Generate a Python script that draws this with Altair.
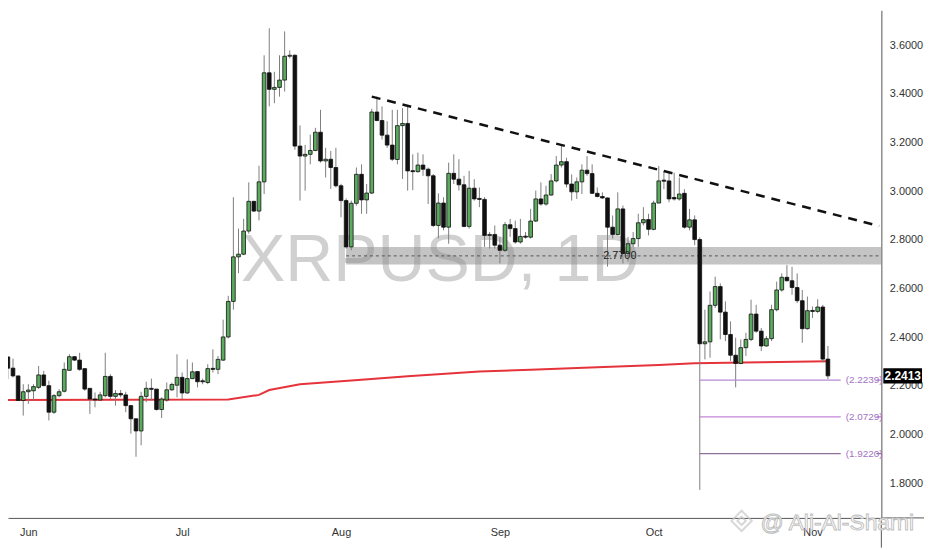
import altair as alt
import pandas as pd

# ---------------- data ----------------
start = "2025-05-27"
opens = [2.309, 2.319, 2.273, 2.241, 2.140, 2.176, 2.180, 2.194, 2.245, 2.201,
         2.092, 2.160, 2.178, 2.264, 2.320, 2.306, 2.271, 2.190, 2.146, 2.142,
         2.160, 2.239, 2.157, 2.169, 2.163, 2.119, 2.065, 2.015, 2.157, 2.190,
         2.187, 2.103, 2.142, 2.184, 2.203, 2.235, 2.171, 2.230, 2.259, 2.218,
         2.214, 2.271, 2.268, 2.306, 2.401, 2.547, 2.730, 2.741, 2.836, 2.958,
         2.918, 3.038, 3.486, 3.418, 3.426, 3.456, 3.554, 3.558, 3.185, 3.144,
         3.151, 3.167, 3.242, 3.124, 3.131, 3.097, 3.022, 2.961, 2.771, 2.950,
         3.069, 2.964, 2.992, 3.325, 3.290, 3.230, 3.189, 3.130, 3.269, 3.278,
         3.083, 3.080, 3.107, 3.090, 3.063, 2.859, 2.951, 2.852, 3.073, 3.049,
         3.026, 2.855, 3.012, 2.968, 2.966, 2.818, 2.822, 2.778, 2.757, 2.862,
         2.846, 2.791, 2.814, 2.811, 2.877, 2.968, 2.947, 2.984, 3.042, 3.107,
         3.121, 3.029, 2.997, 3.038, 3.086, 3.072, 2.991, 2.978, 2.972, 2.852,
         2.822, 2.927, 2.744, 2.784, 2.805, 2.870, 2.883, 2.843, 2.951, 3.042,
         3.042, 2.974, 2.968, 2.991, 2.852, 2.882, 2.801, 2.373, 2.381, 2.531,
         2.608, 2.503, 2.411, 2.326, 2.292, 2.357, 2.391, 2.495, 2.425, 2.364,
         2.394, 2.513, 2.594, 2.646, 2.632, 2.604, 2.550, 2.435, 2.509, 2.506,
         2.524, 2.310]
highs = [2.350, 2.322, 2.312, 2.243, 2.207, 2.207, 2.207, 2.282, 2.262, 2.221,
         2.167, 2.187, 2.296, 2.330, 2.323, 2.336, 2.271, 2.190, 2.173, 2.176,
         2.336, 2.248, 2.183, 2.183, 2.176, 2.122, 2.065, 2.176, 2.217, 2.230,
         2.187, 2.153, 2.214, 2.214, 2.330, 2.255, 2.309, 2.296, 2.259, 2.230,
         2.289, 2.350, 2.323, 2.472, 2.570, 2.975, 2.846, 2.886, 3.036, 2.960,
         3.104, 3.558, 3.669, 3.490, 3.558, 3.656, 3.578, 3.562, 3.270, 3.190,
         3.232, 3.260, 3.334, 3.178, 3.165, 3.178, 3.030, 2.970, 2.961, 3.097,
         3.110, 3.029, 3.338, 3.388, 3.348, 3.287, 3.334, 3.334, 3.341, 3.354,
         3.151, 3.158, 3.151, 3.097, 3.070, 2.991, 2.975, 3.117, 3.151, 3.131,
         3.063, 3.083, 3.049, 3.015, 2.975, 2.832, 2.859, 2.811, 2.873, 2.886,
         2.879, 2.886, 2.832, 2.927, 3.002, 3.036, 3.022, 3.070, 3.144, 3.192,
         3.137, 3.069, 3.056, 3.110, 3.144, 3.110, 3.015, 2.995, 2.974, 2.900,
         2.995, 2.941, 2.812, 2.832, 2.907, 2.934, 2.907, 2.961, 3.103, 3.083,
         3.083, 3.076, 3.056, 3.008, 2.927, 2.900, 2.810, 2.513, 2.588, 2.649,
         2.621, 2.547, 2.465, 2.398, 2.391, 2.418, 2.554, 2.533, 2.438, 2.405,
         2.533, 2.628, 2.662, 2.696, 2.689, 2.662, 2.594, 2.567, 2.526, 2.556,
         2.533, 2.364]
lows = [2.275, 2.228, 2.235, 2.138, 2.078, 2.126, 2.140, 2.187, 2.201, 2.058,
        2.085, 2.153, 2.173, 2.262, 2.302, 2.262, 2.180, 2.085, 2.112, 2.140,
        2.153, 2.146, 2.119, 2.153, 2.092, 2.004, 1.909, 1.956, 2.133, 2.140,
        2.099, 2.068, 2.135, 2.180, 2.153, 2.146, 2.167, 2.228, 2.194, 2.207,
        2.207, 2.255, 2.248, 2.302, 2.395, 2.513, 2.663, 2.737, 2.825, 2.914,
        2.880, 2.988, 3.348, 3.361, 3.388, 3.409, 3.545, 3.170, 2.961, 3.002,
        3.110, 3.164, 3.117, 3.056, 3.009, 3.015, 2.893, 2.764, 2.757, 2.940,
        2.907, 2.907, 2.988, 3.287, 3.212, 3.178, 3.124, 3.110, 3.050, 3.002,
        3.004, 3.076, 3.063, 2.947, 2.852, 2.806, 2.839, 2.784, 3.029, 3.002,
        2.852, 2.846, 2.961, 2.934, 2.771, 2.764, 2.764, 2.703, 2.750, 2.812,
        2.784, 2.784, 2.805, 2.805, 2.873, 2.940, 2.940, 2.981, 3.036, 3.097,
        3.015, 2.961, 2.968, 2.988, 3.063, 2.988, 2.974, 2.968, 2.690, 2.805,
        2.818, 2.703, 2.710, 2.771, 2.771, 2.859, 2.818, 2.839, 2.951, 3.008,
        2.954, 2.961, 2.961, 2.846, 2.839, 2.778, 1.773, 2.309, 2.316, 2.520,
        2.391, 2.384, 2.302, 2.194, 2.289, 2.323, 2.384, 2.418, 2.343, 2.361,
        2.384, 2.506, 2.587, 2.628, 2.574, 2.540, 2.377, 2.431, 2.479, 2.499,
        2.296, 2.228]
closes = [2.319, 2.273, 2.241, 2.140, 2.176, 2.183, 2.197, 2.245, 2.201, 2.092,
          2.160, 2.176, 2.268, 2.320, 2.306, 2.268, 2.187, 2.146, 2.142, 2.163,
          2.239, 2.157, 2.169, 2.163, 2.119, 2.065, 2.015, 2.157, 2.190, 2.186,
          2.103, 2.146, 2.184, 2.206, 2.235, 2.171, 2.230, 2.258, 2.217, 2.217,
          2.271, 2.268, 2.309, 2.401, 2.547, 2.730, 2.741, 2.836, 2.958, 2.918,
          3.038, 3.486, 3.418, 3.426, 3.456, 3.554, 3.558, 3.185, 3.144, 3.151,
          3.167, 3.242, 3.124, 3.131, 3.097, 3.022, 2.961, 2.771, 2.950, 3.069,
          2.964, 2.992, 3.325, 3.290, 3.230, 3.189, 3.131, 3.269, 3.278, 3.083,
          3.080, 3.107, 3.090, 3.063, 2.859, 2.951, 2.852, 3.073, 3.049, 3.026,
          2.855, 3.012, 2.968, 2.966, 2.818, 2.822, 2.778, 2.757, 2.862, 2.846,
          2.791, 2.814, 2.811, 2.877, 2.968, 2.947, 2.984, 3.042, 3.107, 3.121,
          3.029, 2.997, 3.038, 3.086, 3.072, 2.991, 2.978, 2.972, 2.852, 2.822,
          2.927, 2.744, 2.784, 2.805, 2.870, 2.883, 2.843, 2.951, 3.042, 3.041,
          2.968, 2.968, 2.988, 2.852, 2.882, 2.801, 2.373, 2.381, 2.531, 2.608,
          2.503, 2.411, 2.326, 2.292, 2.357, 2.391, 2.495, 2.425, 2.364, 2.394,
          2.513, 2.594, 2.646, 2.632, 2.604, 2.550, 2.435, 2.509, 2.506, 2.524,
          2.310, 2.2413]

# 200-day moving average (red), read at a few dates
ma_dates = ["2025-05-27", "2025-07-10", "2025-07-16", "2025-07-18", "2025-07-24",
            "2025-08-05", "2025-08-14", "2025-08-28", "2025-09-07", "2025-09-20",
            "2025-10-02", "2025-10-09", "2025-10-22", "2025-11-04"]
ma_values = [2.142, 2.144, 2.163, 2.183, 2.207, 2.225, 2.240, 2.259, 2.266, 2.277,
             2.286, 2.293, 2.297, 2.301]

# descending dashed trendline
trend_dates = ["2025-08-07", "2025-11-14"]
trend_values = [3.388, 2.857]

# grey resistance zone
zone_start = "2025-08-02"
zone_low, zone_high, zone_mid = 2.699, 2.771, 2.734
zone_label = "2.7700"
zone_label_date = "2025-09-24"

# fib extension levels
fib_start, fib_end = "2025-10-10", "2025-11-06"
fib_levels = [2.2239, 2.0729, 1.9220]
fib_labels = ["(2.2239)", "(2.0729)", "(1.9220)"]
fib_colors = ["#b88ad6", "#c583d6", "#8f7199"]

y_ticks = [1.8, 2.0, 2.2, 2.4, 2.6, 2.8, 3.0, 3.2, 3.4, 3.6]
watermark = "XRPUSD, 1D"
author = "@ Ali-Al-Shami"

# ---------------- build frames ----------------
t0 = pd.Timestamp(start)
def idx(d):
    return (pd.Timestamp(d) - t0).days

df = pd.DataFrame({
    "date": pd.date_range(start, periods=len(opens)),
    "open": opens, "high": highs, "low": lows, "close": closes,
})
df["i"] = (df["date"] - t0).dt.days
df["top"] = df[["open", "close"]].max(axis=1)
df["bot"] = df[["open", "close"]].min(axis=1)
thin = (df["top"] - df["bot"]) < 0.004
df.loc[thin, "top"] = df.loc[thin, "bot"] + 0.004
df["up"] = df["close"] >= df["open"]
df["xl"] = df["i"] - 0.36
df["xr"] = df["i"] + 0.36
df["date"] = df["date"].dt.strftime("%Y-%m-%d")

month_starts = [d for d in pd.date_range(start, periods=len(opens) + 12) if d.day == 1]
month_idx = [int((d - t0).days) for d in month_starts]
label_expr = ""
for d, k in zip(month_starts, month_idx):
    label_expr += f"datum.value == {k} ? '{d.strftime('%b')}' : "
label_expr += "''"

ma_df = pd.DataFrame({"i": [idx(d) for d in ma_dates], "ma": ma_values})
tr_df = pd.DataFrame({"i": [idx(d) for d in trend_dates], "v": trend_values})
zone_df = pd.DataFrame({"x0": [idx(zone_start)], "lo": [zone_low], "hi": [zone_high],
                        "mid": [zone_mid], "lab": [zone_label],
                        "lx": [idx(zone_label_date) + 0.4]})
fib_df = pd.DataFrame({"x0": [idx(fib_start)] * 3, "x1": [idx(fib_end) + 0.5] * 3,
                       "lvl": fib_levels, "lab": fib_labels, "col": fib_colors})
last_df = pd.DataFrame({"p": [closes[-1]], "lab": [f"{closes[-1]:.4f}"]})

W, H = 881, 512
X_DOM = [1.025, 171.43]
Y_DOM = [1.6578, 3.7425]
FONT = "Liberation Sans Narrow, Liberation Sans, Arial, sans-serif"
xs = alt.Scale(domain=X_DOM, nice=False, zero=False)
ys = alt.Scale(domain=Y_DOM, nice=False, zero=False)

x_axis = alt.Axis(values=month_idx, labelExpr=label_expr, title=None, grid=False,
                  ticks=False, domainColor="#555555", labelColor="#333333",
                  labelFontSize=11, labelFont=FONT, labelPadding=9, labelAngle=0,
                  labelFlush=False, labelOverlap=False)
y_axis = alt.Axis(orient="right", values=y_ticks, format=".4f", title=None, grid=False,
                  ticks=False, domainColor="#555555", labelColor="#333333",
                  labelFontSize=11, labelFont=FONT, labelPadding=8)


def X(field):
    return alt.X(field, scale=xs, axis=x_axis)


def Y(field):
    return alt.Y(field, scale=ys, axis=y_axis)


one = pd.DataFrame({"a": [1]})

wm = alt.Chart(pd.DataFrame({"t": [watermark]})).mark_text(
    font=FONT, fontSize=67, color="#909090", opacity=0.42, align="center",
    baseline="alphabetic").encode(text="t:N", x=alt.value(436), y=alt.value(273))

# axis lines continued through the label gutters, as in the reference
frame_h = alt.Chart(one).mark_rule(color="#555555", strokeWidth=1).encode(
    x=alt.value(W), x2=alt.value(W + 43), y=alt.value(H))
frame_v = alt.Chart(one).mark_rule(color="#555555", strokeWidth=1).encode(
    x=alt.value(W), y=alt.value(H), y2=alt.value(H + 30))

zone = alt.Chart(zone_df).mark_rect(color="#8a8a8a", opacity=0.5, clip=True).encode(
    x=X("x0:Q"), x2=alt.value(W), y=Y("lo:Q"), y2="hi:Q")
zone_line = alt.Chart(zone_df).mark_rule(color="#555555", strokeWidth=1,
                                         strokeDash=[3, 3], clip=True).encode(
    x=X("x0:Q"), x2=alt.value(W), y=Y("mid:Q"))

ma = alt.Chart(ma_df).mark_line(color="#e5333b", strokeWidth=2, clip=True).encode(
    x=X("i:Q"), y=Y("ma:Q"))

wicks = alt.Chart(df).mark_rule(color="#7d7d7d", strokeWidth=1, clip=True).encode(
    x=X("i:Q"), y=Y("low:Q"), y2="high:Q")

bodies = alt.Chart(df).mark_rect(stroke="#111111", strokeWidth=0.8, clip=True).encode(
    x=X("xl:Q"), x2="xr:Q", y=Y("bot:Q"), y2="top:Q",
    fill=alt.condition("datum.up", alt.value("#5aab5e"), alt.value("#111111")))

zone_text = alt.Chart(zone_df).mark_text(font=FONT, fontSize=11, color="#222222",
                                         align="center", baseline="middle").encode(
    x=X("lx:Q"), y=Y("mid:Q"), text="lab:N")

trend = alt.Chart(tr_df).mark_line(color="#111111", strokeWidth=2.5,
                                   strokeDash=[9, 7], clip=True).encode(
    x=X("i:Q"), y=Y("v:Q"))

fib = alt.Chart(fib_df).mark_rule(strokeWidth=1.3).encode(
    x=X("x0:Q"), x2="x1:Q", y=Y("lvl:Q"), color=alt.Color("col:N", scale=None))
fib_tick = alt.Chart(fib_df).mark_rule(strokeWidth=1.3).encode(
    x=alt.value(W - 5), x2=alt.value(W), y=Y("lvl:Q"),
    color=alt.Color("col:N", scale=None))
fib_txt = alt.Chart(fib_df).mark_text(font=FONT, fontSize=10, color="#a273c2",
                                      align="left", baseline="middle", dx=5).encode(
    x=X("x1:Q"), y=Y("lvl:Q"), text="lab:N")

tag = alt.Chart(last_df).transform_calculate(
    yt="datum.p + 0.031", yb="datum.p - 0.031").mark_rect(color="#000000").encode(
    x=alt.value(W + 2), x2=alt.value(W + 41), y=Y("yb:Q"), y2="yt:Q")
tag_txt = alt.Chart(last_df).mark_text(font=FONT, fontSize=12, fontWeight="bold",
                                       color="white", align="center",
                                       baseline="middle").encode(
    x=alt.value(W + 21.5), y=Y("p:Q"), text="lab:N")

logo_out = alt.Chart(one).mark_point(
    shape="diamond", size=420, filled=False, color="#c8c8c8", strokeWidth=2).encode(
    x=alt.value(740), y=alt.value(515))
logo_in = alt.Chart(one).mark_point(
    shape="diamond", size=70, filled=False, color="#c8c8c8", strokeWidth=2).encode(
    x=alt.value(740), y=alt.value(515))
auth = alt.Chart(pd.DataFrame({"t": [author]})).mark_text(
    font="Liberation Sans, Arial, sans-serif", fontSize=23, fill="white",
    stroke="#bdbdbd", strokeWidth=0.9, align="left", baseline="alphabetic").encode(
    text="t:N", x=alt.value(759), y=alt.value(524))

chart = alt.layer(
    wm, frame_h, frame_v, zone, zone_line, ma, wicks, bodies, zone_text, trend,
    fib, fib_tick, fib_txt, tag, tag_txt, logo_out, logo_in, auth
).properties(
    width=W, height=H,
    padding={"left": 0, "top": 0, "right": 43, "bottom": 30},
    autosize=alt.AutoSizeParams(type="none"),
    background="white",
).configure_view(stroke=None)

chart.save("out.html", embed_options={"renderer": "svg", "actions": False})
